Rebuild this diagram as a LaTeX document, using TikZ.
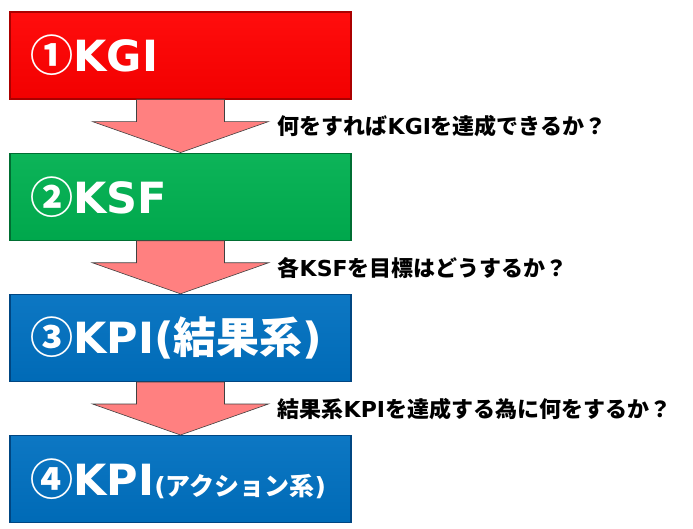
\documentclass[tikz,border=0pt]{standalone}
\usepackage{fontspec}
\setmainfont{Noto Sans CJK JP}
\newfontfamily\lat{DejaVu Sans}
\usetikzlibrary{positioning}
\definecolor{kgired}{RGB}{255,0,0}
\definecolor{kgiedge}{RGB}{170,0,0}
\definecolor{ksfgreen}{RGB}{0,176,80}
\definecolor{ksfedge}{RGB}{0,110,50}
\definecolor{kpiblue}{RGB}{0,112,192}
\definecolor{kpiedge}{RGB}{0,70,130}
\definecolor{arrowpink}{RGB}{255,128,128}
\tikzset{
  stepbox/.style={rectangle, minimum height=87pt, text width=300pt, inner xsep=20.5pt,
    align=left, text=white, line width=1.2pt,
    font=\fontsize{43}{43}\selectfont\bfseries},
  downarrow/.style={fill=arrowpink, draw=black!75, line width=0.6pt},
  ask/.style={anchor=west, inner sep=0pt, font=\fontsize{22}{22}\selectfont\bfseries}
}
\begin{document}
\begin{tikzpicture}[x=1pt, y=1pt, node distance=53pt]
\useasboundingbox (0,0) rectangle (693,-529);
% the four steps
\node[stepbox, top color=kgired!95!white, bottom color=kgired!95!black, draw=kgiedge] (kgi) at (180.5,-55.5) {①{\lat KGI}};
\node[stepbox, top color=ksfgreen!95!white, bottom color=ksfgreen!95!black, draw=ksfedge, below=of kgi] (ksf) {②{\lat KSF}};
\node[stepbox, top color=kpiblue!95!white, bottom color=kpiblue!95!black, draw=kpiedge, below=of ksf] (kpir) {③{\lat KPI(}結果系{\lat )}};
\node[stepbox, top color=kpiblue!95!white, bottom color=kpiblue!95!black, draw=kpiedge, below=of kpir] (kpia) {④{\lat KPI}{\fontsize{25}{25}\selectfont{\lat (}アクション系{\lat )}}};
% block arrows between the steps
\foreach \a/\b in {kgi/ksf, ksf/kpir, kpir/kpia}
  \draw[downarrow] ([xshift=-44pt]\a.south) -- ([xshift=-44pt,yshift=-22pt]\a.south)
    -- ([xshift=-88pt,yshift=-22pt]\a.south) -- (\b.north)
    -- ([xshift=88pt,yshift=-22pt]\a.south) -- ([xshift=44pt,yshift=-22pt]\a.south)
    -- ([xshift=44pt]\a.south) -- cycle;
% questions
\node[ask] (q1) at ([xshift=97pt,yshift=-27pt]kgi.south) {何をすれば{\lat KGI}を達成できるか？};
\node[ask] (q2) at ([xshift=97pt,yshift=-27pt]ksf.south) {各{\lat KSF}を目標はどうするか？};
\node[ask] (q3) at ([xshift=97pt,yshift=-27pt]kpir.south) {結果系{\lat KPI}を達成する為に何をするか？};
\end{tikzpicture}
\end{document}
